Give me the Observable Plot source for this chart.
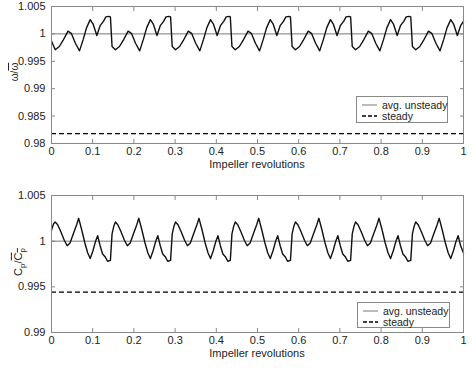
<!DOCTYPE html>
<html><head><meta charset="utf-8">
<script src="https://cdn.jsdelivr.net/npm/d3@7"></script>
<script src="https://cdn.jsdelivr.net/npm/@observablehq/plot@0.6"></script>
<style>
body{margin:0;background:#fff;font-family:"Liberation Sans",Arial,sans-serif;}
#wrap{position:relative;width:474px;height:370px;overflow:hidden;}
.panel{position:absolute;left:0;width:474px;height:185px;}
.ylab{position:absolute;transform:translate(-50%,-50%) rotate(-90deg);white-space:nowrap;color:#222;line-height:1;}
.xlab{position:absolute;transform:translate(-50%,-50%);white-space:nowrap;font-size:11px;color:#222;}
.legend{position:absolute;background:#fff;border:1px solid #888;box-sizing:border-box;font-size:10.5px;color:#222;padding-top:2px;white-space:nowrap;}
.legend .row{display:flex;align-items:center;height:11px;white-space:nowrap;}
.legend svg{margin-left:5px;margin-right:5px;flex:none;}
.ol{text-decoration:overline;}
</style></head>
<body><div id="wrap"></div>
<script>
// ---- data ----
const xTicks = [0, 0.1, 0.2, 0.3, 0.4, 0.5, 0.6, 0.7, 0.8, 0.9, 1];
const yTicksTop = [0.98, 0.985, 0.99, 0.995, 1, 1.005];
const yTicksBottom = [0.99, 0.995, 1, 1.005];

const revTop = [
0,0.009,0.019,0.028,0.040,0.048,0.058,0.068,0.077,0.085,0.094,0.101,0.110,0.118,0.126,0.132,0.139,
0.143,0.147,0.155,0.165,0.174,0.186,0.194,0.204,0.214,0.223,0.231,0.240,0.247,0.256,0.264,0.272,0.278,0.285,
0.289,0.293,0.301,0.311,0.320,0.332,0.340,0.350,0.360,0.369,0.377,0.386,0.393,0.402,0.410,0.418,0.424,0.431,
0.434,0.438,0.446,0.456,0.465,0.477,0.485,0.495,0.505,0.514,0.522,0.531,0.538,0.547,0.555,0.563,0.569,0.576,
0.580,0.584,0.592,0.602,0.611,0.623,0.631,0.641,0.651,0.660,0.668,0.677,0.684,0.693,0.701,0.709,0.715,0.722,
0.726,0.730,0.738,0.748,0.757,0.769,0.777,0.787,0.797,0.806,0.814,0.823,0.830,0.839,0.847,0.855,0.861,0.868,
0.872,0.876,0.884,0.894,0.903,0.915,0.923,0.933,0.943,0.952,0.960,0.969,0.976,0.985,0.993,1.000];
const omegaRatio = [
0.9987,0.9971,0.9977,0.9988,1.0005,1.0001,0.9983,0.9969,0.9990,1.0011,1.0026,1.0018,0.9997,1.0015,1.0023,1.0031,1.0032,
1.0031,0.9977,0.9971,0.9977,0.9988,1.0005,1.0001,0.9983,0.9969,0.9990,1.0011,1.0026,1.0018,0.9997,1.0015,1.0023,1.0031,1.0032,
1.0031,0.9977,0.9971,0.9977,0.9988,1.0005,1.0001,0.9983,0.9969,0.9990,1.0011,1.0026,1.0018,0.9997,1.0015,1.0023,1.0031,1.0032,
1.0031,0.9977,0.9971,0.9977,0.9988,1.0005,1.0001,0.9983,0.9969,0.9990,1.0011,1.0026,1.0018,0.9997,1.0015,1.0023,1.0031,1.0032,
1.0031,0.9977,0.9971,0.9977,0.9988,1.0005,1.0001,0.9983,0.9969,0.9990,1.0011,1.0026,1.0018,0.9997,1.0015,1.0023,1.0031,1.0032,
1.0031,0.9977,0.9971,0.9977,0.9988,1.0005,1.0001,0.9983,0.9969,0.9990,1.0011,1.0026,1.0018,0.9997,1.0015,1.0023,1.0031,1.0032,
1.0031,0.9977,0.9971,0.9977,0.9988,1.0005,1.0001,0.9983,0.9969,0.9990,1.0011,1.0026,1.0018,0.9997,1.0015,1.0023];
const omegaAvg = 1;
const omegaSteady = 0.9818;

const revBottom = [
0,0.005,0.009,0.015,0.023,0.031,0.038,0.045,0.053,0.061,0.066,0.073,0.081,0.088,0.094,0.101,0.107,0.112,0.118,0.124,0.130,0.136,
0.143,0.147,0.151,0.155,0.161,0.169,0.177,0.184,0.191,0.199,0.207,0.212,0.219,0.227,0.234,0.240,0.247,0.253,0.258,0.264,0.270,0.276,0.282,
0.289,0.293,0.297,0.301,0.307,0.315,0.323,0.330,0.337,0.345,0.353,0.358,0.365,0.373,0.380,0.386,0.393,0.399,0.404,0.410,0.416,0.422,0.428,
0.434,0.438,0.442,0.446,0.452,0.460,0.468,0.475,0.482,0.490,0.498,0.503,0.510,0.518,0.525,0.531,0.538,0.544,0.549,0.555,0.561,0.567,0.573,
0.580,0.584,0.588,0.592,0.598,0.606,0.614,0.621,0.628,0.636,0.644,0.649,0.656,0.664,0.671,0.677,0.684,0.690,0.695,0.701,0.707,0.713,0.719,
0.726,0.730,0.734,0.738,0.744,0.752,0.760,0.767,0.774,0.782,0.790,0.795,0.802,0.810,0.817,0.823,0.830,0.836,0.841,0.847,0.853,0.859,0.865,
0.872,0.876,0.880,0.884,0.890,0.898,0.906,0.913,0.920,0.928,0.936,0.941,0.948,0.956,0.963,0.969,0.976,0.982,0.987,0.993,1.000];
const cpRatio = [
1.0012,1.0019,1.0021,1.0018,1.0010,1.0001,0.9995,0.9998,1.0008,1.0018,1.0025,1.0013,0.9998,0.9987,0.9981,0.9990,1.0000,1.0006,0.9995,0.9986,0.9983,0.9978,
0.9979,1.0008,1.0016,1.0021,1.0018,1.0010,1.0001,0.9995,0.9998,1.0008,1.0018,1.0025,1.0013,0.9998,0.9987,0.9981,0.9990,1.0000,1.0006,0.9995,0.9986,0.9983,0.9978,
0.9979,1.0008,1.0016,1.0021,1.0018,1.0010,1.0001,0.9995,0.9998,1.0008,1.0018,1.0025,1.0013,0.9998,0.9987,0.9981,0.9990,1.0000,1.0006,0.9995,0.9986,0.9983,0.9978,
0.9979,1.0008,1.0016,1.0021,1.0018,1.0010,1.0001,0.9995,0.9998,1.0008,1.0018,1.0025,1.0013,0.9998,0.9987,0.9981,0.9990,1.0000,1.0006,0.9995,0.9986,0.9983,0.9978,
0.9979,1.0008,1.0016,1.0021,1.0018,1.0010,1.0001,0.9995,0.9998,1.0008,1.0018,1.0025,1.0013,0.9998,0.9987,0.9981,0.9990,1.0000,1.0006,0.9995,0.9986,0.9983,0.9978,
0.9979,1.0008,1.0016,1.0021,1.0018,1.0010,1.0001,0.9995,0.9998,1.0008,1.0018,1.0025,1.0013,0.9998,0.9987,0.9981,0.9990,1.0000,1.0006,0.9995,0.9986,0.9983,0.9978,
0.9979,1.0008,1.0016,1.0021,1.0018,1.0010,1.0001,0.9995,0.9998,1.0008,1.0018,1.0025,1.0013,0.9998,0.9987,0.9981,0.9990,1.0000,1.0006,0.9995,0.9987];
const cpAvg = 1;
const cpSteady = 0.99442;

const xLabel = "Impeller revolutions";
const legendLabels = ["avg. unsteady", "steady"];

// ---- drawing ----
const fmt = d3.format("~g");
function panel(xs, ys, avg, steady, yDomain, yTicks, mt, mb) {
  const data = xs.map((x, i) => ({x, y: ys[i]}));
  return Plot.plot({
    width: 474, height: 185,
    marginLeft: 51, marginRight: 11, marginTop: mt, marginBottom: mb,
    style: {fontFamily: '"Liberation Sans", Arial, sans-serif', fontSize: "11px", color: "#222", background: "#fff"},
    x: {domain: [0, 1]},
    y: {domain: yDomain},
    marks: [
      Plot.ruleY([avg], {stroke: "#777", strokeWidth: 1}),
      Plot.ruleY([steady], {stroke: "#000", strokeWidth: 1.3, strokeDasharray: "5,3"}),
      Plot.line(data, {x: "x", y: "y", stroke: "#111", strokeWidth: 1.4}),
      Plot.frame({stroke: "#888"}),
      Plot.axisX(xTicks, {anchor: "bottom", tickSize: 0, tickPadding: 4, tickFormat: fmt, label: null}),
      Plot.axisX(xTicks, {anchor: "bottom", tickSize: -4, tickFormat: () => "", label: null, stroke: "#888"}),
      Plot.axisX(xTicks, {anchor: "top", tickSize: -4, tickFormat: () => "", label: null, stroke: "#888"}),
      Plot.axisY(yTicks, {anchor: "left", tickSize: 0, tickPadding: 6, tickFormat: fmt, label: null}),
      Plot.axisY(yTicks, {anchor: "left", tickSize: -4, tickFormat: () => "", label: null, stroke: "#888"}),
      Plot.axisY(yTicks, {anchor: "right", tickSize: -4, tickFormat: () => "", label: null, stroke: "#888"})
    ]
  });
}

const wrap = document.getElementById("wrap");
function addPanel(top, svg) {
  const d = document.createElement("div");
  d.className = "panel"; d.style.top = top + "px";
  d.appendChild(svg); wrap.appendChild(d);
}
addPanel(0, panel(revTop, omegaRatio, omegaAvg, omegaSteady, [0.98, 1.005], yTicksTop, 6, 42));
addPanel(185, panel(revBottom, cpRatio, cpAvg, cpSteady, [0.99, 1.005], yTicksBottom, 10, 38));

function addHTML(html) { const t = document.createElement("div"); t.innerHTML = html; wrap.appendChild(t.firstElementChild); }
addHTML(`<div class="xlab" style="left:257px;top:164px">${xLabel}</div>`);
addHTML(`<div class="xlab" style="left:257px;top:353px">${xLabel}</div>`);
addHTML(`<div class="ylab" style="left:15px;top:72px;font-size:10px">ω/<span class="ol">ω</span></div>`);
addHTML(`<div class="ylab" style="left:20px;top:262px;font-size:11px">C<sub style="font-size:8px">p</sub>/<span class="ol">C<sub style="font-size:8px">p</sub></span></div>`);

function legend(left, top, w, h) {
  const sample = (dash, color, sw) => `<svg width="15" height="4"><line x1="0" x2="15" y1="2" y2="2" stroke="${color}" stroke-width="${sw}" ${dash ? 'stroke-dasharray="4,2"' : ''}/></svg>`;
  addHTML(`<div class="legend" style="left:${left}px;top:${top}px;width:${w}px;height:${h}px">
    <div class="row">${sample(false, "#777", 1)}<span>${legendLabels[0]}</span></div>
    <div class="row">${sample(true, "#000", 1.5)}<span>${legendLabels[1]}</span></div></div>`);
}
legend(356, 96, 92, 27);
legend(357, 302, 93, 26);
</script></body></html>
